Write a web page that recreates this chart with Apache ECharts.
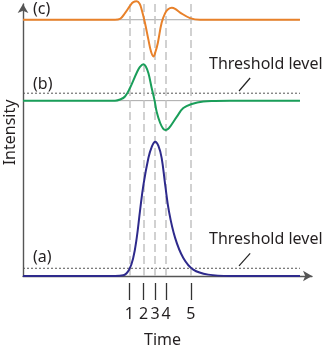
<!DOCTYPE html>
<html>
<head>
<meta charset="utf-8">
<script src="https://cdn.jsdelivr.net/npm/echarts@6/dist/echarts.min.js"></script>
<style>
  html, body { margin: 0; padding: 0; background: #fff; }
  #chart { width: 324px; height: 350px; }
</style>
</head>
<body>
<div id="chart"></div>
<script>
// (a) peak signal
const aTime = [0, 28, 31.4, 34.2, 36.2, 37.6, 38.8, 39.9, 41.1, 42.8, 43.9, 45.1, 46.2, 47.3, 48.5, 49.8, 51.9, 54.7, 58.1, 63.2, 70.6, 94.5];
const aIntensity = [0, 0, 0, 0.25, 2.3, 6.5, 13.8, 23.4, 33.1, 42.8, 46.7, 48.6, 47.1, 42.8, 33.1, 23.4, 13.8, 6.5, 2.3, 0.5, 0, 0];

// (b) first derivative
const bTime = [0, 28, 31.4, 33.1, 34.8, 36.5, 38.8, 39.9, 41.1, 41.9, 42.8, 43.9, 44.9, 45.6, 46.8, 47.8, 48.6, 49.5, 50.2, 52.5, 54.7, 57.6, 61.5, 65.5, 70.6, 94.5];
const bIntensity = [63.5, 63.5, 63.5, 63.9, 65.0, 68.1, 73.6, 75.7, 76.7, 75.9, 73.4, 68.1, 63.5, 59.5, 55.4, 53.4, 52.9, 53.3, 54.1, 57.7, 60.8, 62.3, 63.2, 63.4, 63.5, 63.5];

// (c) second derivative
const cTime = [0, 28, 31.4, 33.1, 34.8, 36.5, 37.5, 38.8, 39.8, 40.5, 41.6, 42.8, 43.7, 44.5, 45.2, 46.0, 47.3, 48.5, 49.5, 50.8, 51.9, 53.6, 57.0, 60.4, 65, 94.5];
const cIntensity = [92.8, 92.8, 92.8, 93.1, 95.2, 97.8, 99.1, 99.5, 98.6, 96.4, 91.7, 85.5, 81.2, 79.5, 81.2, 84.4, 91.7, 95.2, 96.6, 97.1, 96.7, 95.4, 93.4, 92.8, 92.8, 92.8];

// baselines and threshold levels
const baselineB = 63.5;
const baselineC = 92.8;
const thresholdA = 2.8;
const thresholdB = 66.2;
const traceEnd = 94.5;

// marked time points
const markerTimes = [36.3, 41.1, 45.1, 48.8, 57.3];
const markerLabels = ['1', '2', '3', '4', '5'];

const FONT = '"Noto Sans", sans-serif';
const TEXT = '#231f20';

const zip = (xs, ys) => xs.map((x, i) => [x, ys[i]]);
const flat = (y) => [[0, y], [traceEnd, y]];

const chart = echarts.init(document.getElementById('chart'), null, { renderer: 'canvas' });

chart.setOption({
  animation: false,
  backgroundColor: '#ffffff',
  grid: { left: 23, right: 12, top: 4, bottom: 74 },
  xAxis: [
    {
      type: 'value', min: 0, max: 98.6,
      axisLine: { show: true, symbol: ['none', 'arrow'], symbolSize: [8, 9],
                  lineStyle: { color: '#555', width: 1.4 } },
      axisTick: { show: false }, axisLabel: { show: false }, splitLine: { show: false }
    },
    {
      type: 'value', min: 0, max: 98.6, position: 'bottom', offset: 7,
      axisLine: { show: false },
      axisTick: { show: true, customValues: markerTimes, length: 17,
                  lineStyle: { color: '#333', width: 1.3 } },
      axisLabel: { show: true, customValues: markerTimes, margin: 23,
                   fontFamily: FONT, fontSize: 16, color: TEXT,
                   formatter: (v) => markerLabels[markerTimes.indexOf(v)] },
      splitLine: { show: false }
    }
  ],
  yAxis: {
    type: 'value', min: 0, max: 98.5,
    axisLine: { show: true, symbol: ['none', 'arrow'], symbolSize: [8, 9],
                lineStyle: { color: '#555', width: 1.4 } },
    axisTick: { show: false }, axisLabel: { show: false }, splitLine: { show: false }
  },
  series: [
    {
      name: 'markers', type: 'line', data: [], silent: true,
      markLine: {
        silent: true, symbol: 'none', label: { show: false },
        lineStyle: { color: '#c2c2c2', type: [8, 4], width: 1.5 },
        data: markerTimes.map((t) => ({ xAxis: t }))
      }
    },
    {
      name: 'baseline (b)', type: 'line', data: flat(baselineB), symbol: 'none',
      lineStyle: { color: '#a8a8a8', width: 1 }, z: 2
    },
    {
      name: 'baseline (c)', type: 'line', data: flat(baselineC), symbol: 'none',
      lineStyle: { color: '#a8a8a8', width: 1 }, z: 2
    },
    {
      name: 'threshold (a)', type: 'line', data: flat(thresholdA), symbol: 'none',
      lineStyle: { color: '#555', width: 1, type: [2, 2] }, z: 2,
      markLine: {
        silent: true, symbol: 'none', label: { show: false },
        lineStyle: { color: '#222', width: 1.2, type: 'solid' },
        data: [[{ coord: [73.7, 3.7] }, { coord: [77.5, 8.2] }]]
      }
    },
    {
      name: 'threshold (b)', type: 'line', data: flat(thresholdB), symbol: 'none',
      lineStyle: { color: '#555', width: 1, type: [2, 2] }, z: 2,
      markLine: {
        silent: true, symbol: 'none', label: { show: false },
        lineStyle: { color: '#222', width: 1.2, type: 'solid' },
        data: [[{ coord: [73.7, 67.0] }, { coord: [77.5, 71.7] }]]
      }
    },
    {
      name: '(a)', type: 'line', data: zip(aTime, aIntensity), symbol: 'none',
      smooth: 0.4, clip: false, lineStyle: { color: '#2e2a8c', width: 2 }, z: 5
    },
    {
      name: '(b)', type: 'line', data: zip(bTime, bIntensity), symbol: 'none',
      smooth: 0.4, clip: false, lineStyle: { color: '#1a9e5a', width: 2 }, z: 5
    },
    {
      name: '(c)', type: 'line', data: zip(cTime, cIntensity), symbol: 'none',
      smooth: 0.4, clip: false, lineStyle: { color: '#e8812a', width: 2 }, z: 5
    }
  ],
  graphic: [
    { type: 'text', x: 33, y: 9, style: { text: '(c)', font: '16px ' + FONT, fill: TEXT, verticalAlign: 'middle' } },
    { type: 'text', x: 33, y: 84, style: { text: '(b)', font: '16px ' + FONT, fill: TEXT, verticalAlign: 'middle' } },
    { type: 'text', x: 33, y: 257, style: { text: '(a)', font: '16px ' + FONT, fill: TEXT, verticalAlign: 'middle' } },
    { type: 'text', x: 209, y: 64, style: { text: 'Threshold level', font: '16px ' + FONT, fill: TEXT, verticalAlign: 'middle' } },
    { type: 'text', x: 209, y: 239, style: { text: 'Threshold level', font: '16px ' + FONT, fill: TEXT, verticalAlign: 'middle' } },
    { type: 'text', x: 162.5, y: 340, style: { text: 'Time', font: '16px ' + FONT, fill: TEXT, align: 'center', verticalAlign: 'middle' } },
    { type: 'text', x: 10, y: 132.5, rotation: Math.PI / 2,
      style: { text: 'Intensity', font: '16px ' + FONT, fill: TEXT, align: 'center', verticalAlign: 'middle' } }
  ]
});
</script>
</body>
</html>
